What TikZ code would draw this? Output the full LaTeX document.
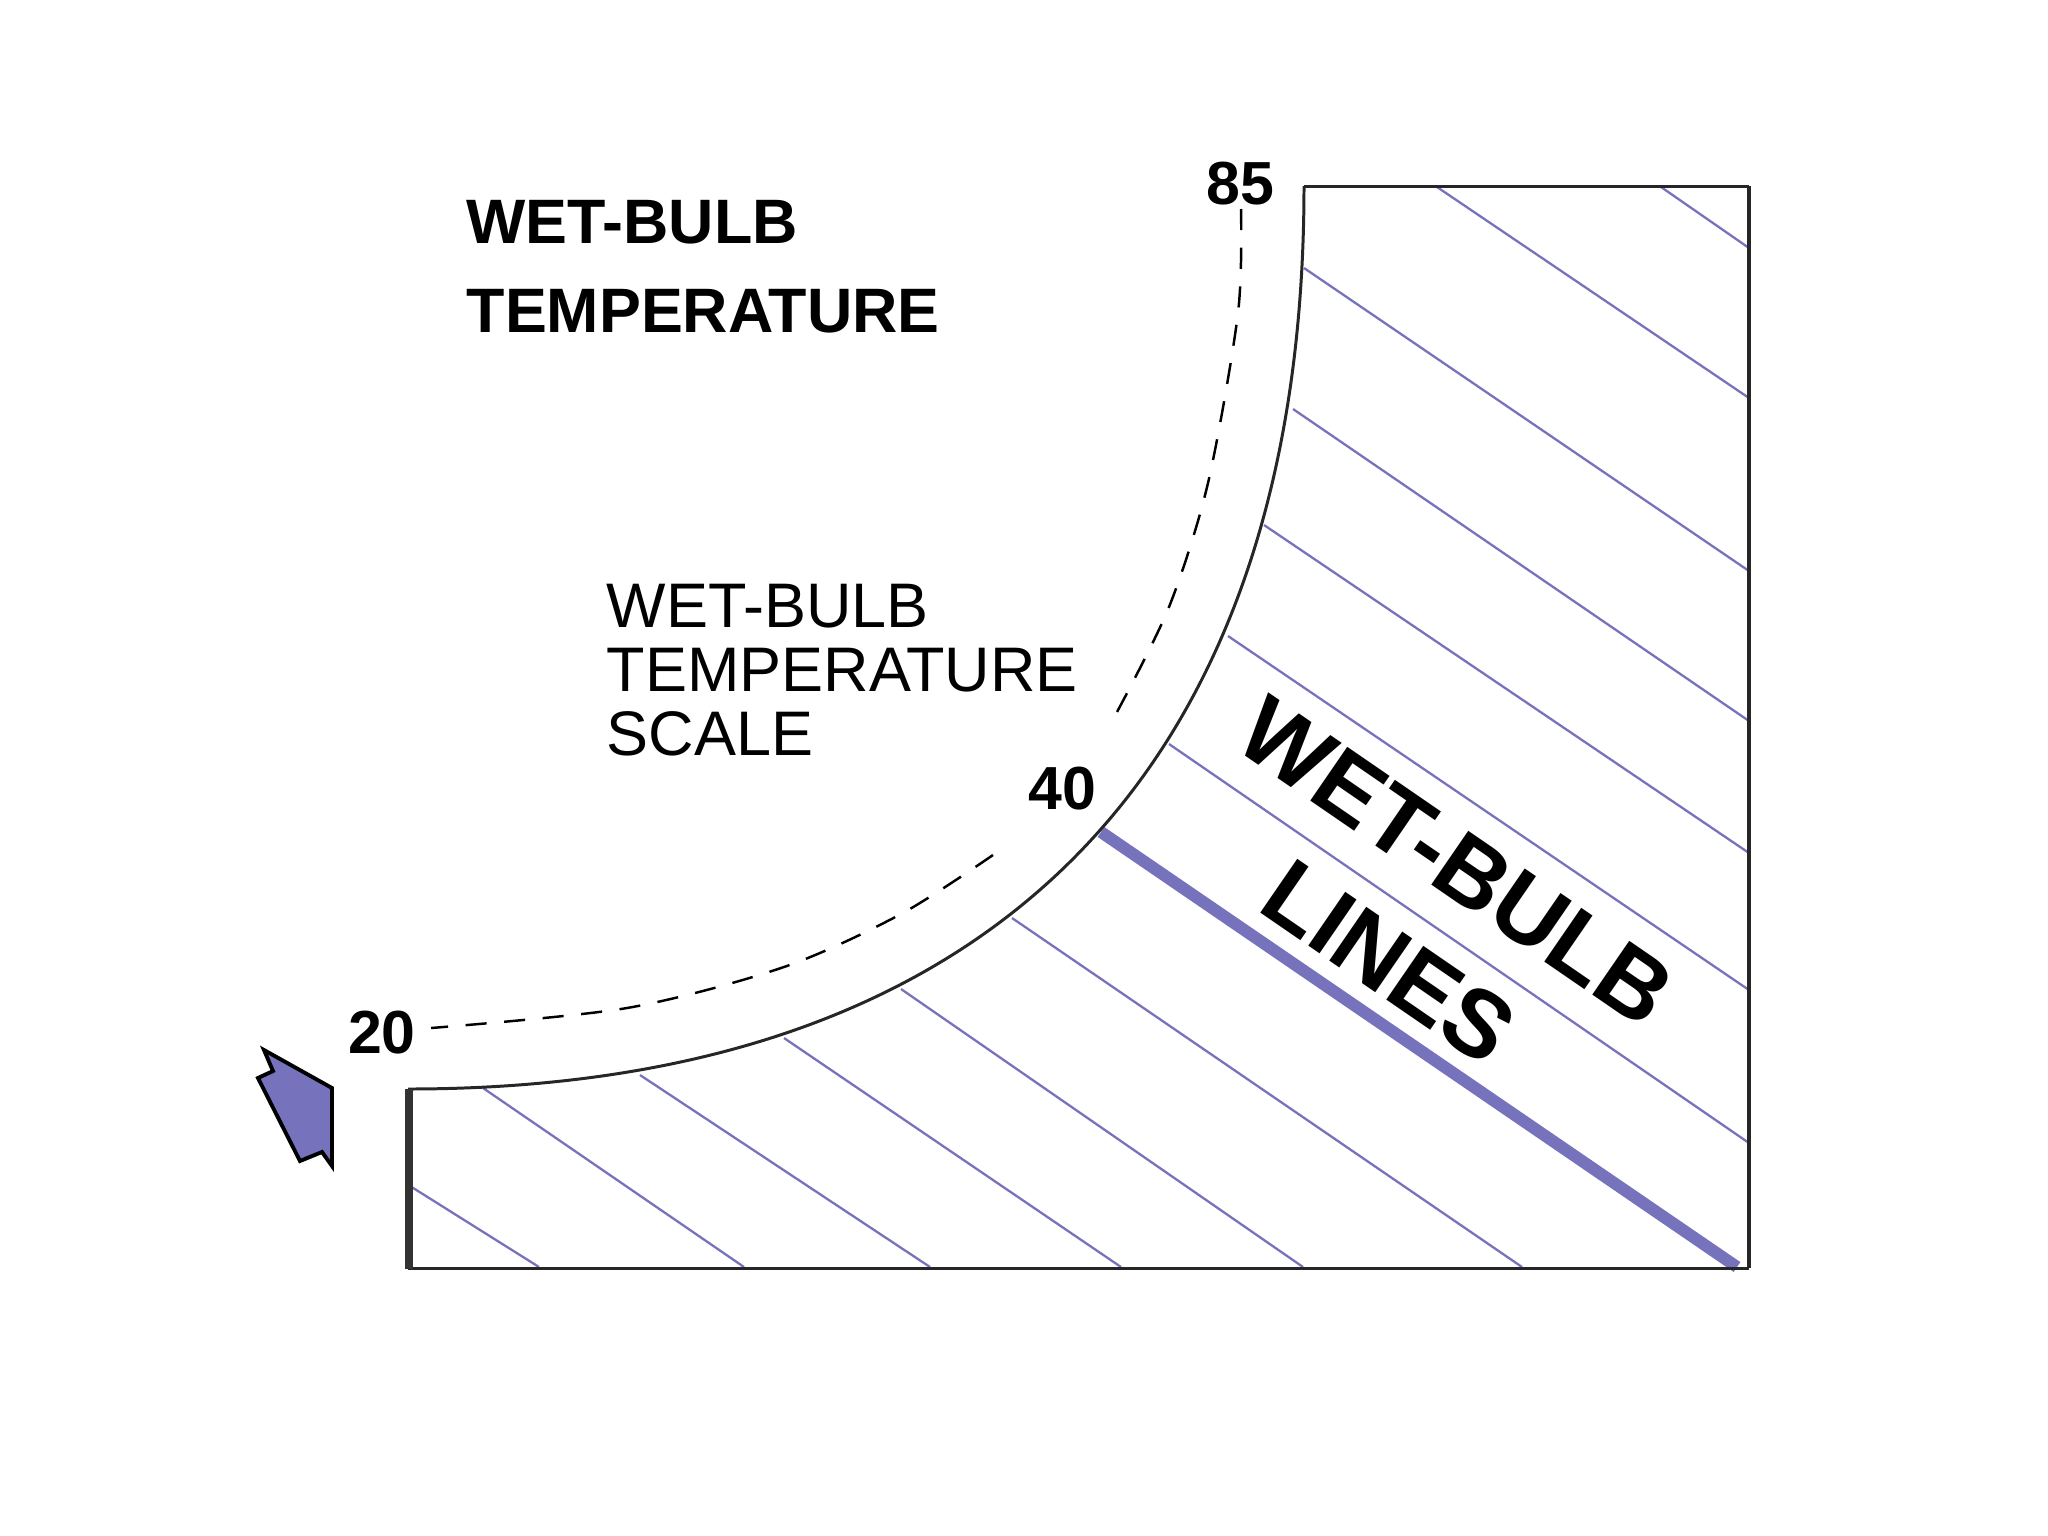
\documentclass[tikz,border=0pt]{standalone}
\usepackage{fontspec}
\setmainfont{Liberation Sans}
\definecolor{bulbblue}{HTML}{7672BC}
\tikzset{
    bulbline/.style={draw=bulbblue, line width=0.65pt},
    edgeline/.style={draw=black!85, line width=0.85pt},
    scaleline/.style={draw=black, line width=0.7pt, dash pattern=on 6pt off 5pt},
    headlabel/.style={font=\fontsize{17.85}{21}\selectfont\bfseries, anchor=west, inner sep=0pt},
    numlabel/.style={font=\fontsize{17.3}{20}\selectfont\bfseries, inner sep=0pt},
    linelabel/.style={font=\fontsize{27}{32}\selectfont\bfseries, rotate=-34.5, inner sep=0pt},
}
\begin{document}
\begin{tikzpicture}[x=0.01cm, y=-0.01cm]
    \useasboundingbox (0,0) rectangle (2048,1536);

    \draw[bulbline] (1437,187) -- (1749,398);
    \draw[bulbline] (1661,187) -- (1749,248);
    \draw[bulbline] (1304,268) -- (1749,571);
    \draw[bulbline] (1293,409) -- (1749,721);
    \draw[bulbline] (1264,525) -- (1749,853);
    \draw[bulbline] (1228,636) -- (1749,990);
    \draw[bulbline] (1169,744) -- (1749,1143);
    \draw[bulbline] (1012,918) -- (1522,1267);
    \draw[bulbline] (901,989) -- (1303,1267);
    \draw[bulbline] (784,1038) -- (1121,1267);
    \draw[bulbline] (640,1075) -- (930,1267);
    \draw[bulbline] (483,1088) -- (744,1267);
    \draw[bulbline] (410,1186) -- (539,1267);
    \draw[draw=bulbblue, line width=3.4pt] (1101,832) -- (1737,1267);

    \draw[edgeline] (1304,186) .. controls (1304,773) and (990,1089) .. (408,1089);
    \draw[edgeline] (1304,186) -- (1749,186);
    \draw[edgeline] (408,1268) -- (1749,1268);
    \draw[draw=black!85, line width=1.1pt] (1749,186) -- (1749,1268);
    \draw[draw=black!80, line width=2.2pt] (409,1089) -- (409,1269);

    \draw[scaleline] plot[smooth] coordinates {(1241,209) (1238,313) (1208,483) (1169,607) (1117,712)};
    \draw[scaleline] plot[smooth] coordinates {(993,855) (901,914) (784,967) (627,1008) (431,1028)};

    \draw[fill=bulbblue, draw=black, line width=1.1pt, line join=miter]
        (264,1050) -- (332,1088) -- (332,1166) -- (322,1152) -- (300,1161) -- (258,1078) -- (273,1071) -- cycle;

    \node[headlabel] (title1) at (466,222) {WET-BULB};
    \node[headlabel] (title2) at (466,311) {TEMPERATURE};
    \node[anchor=west, align=left, inner sep=0pt, font=\fontsize{17.9}{18.3}\selectfont] (scalelabel) at (606,670) {WET-BULB\\TEMPERATURE\\SCALE};
    \node[numlabel] (n85) at (1240,184) {85};
    \node[numlabel] (n40) at (1062,789) {40};
    \node[numlabel] (n20) at (382,1033) {20};
    \node[linelabel] (wetbulb) at (1456,862) {WET-BULB};
    \node[linelabel] (lines) at (1389,962) {LINES};
\end{tikzpicture}
\end{document}
